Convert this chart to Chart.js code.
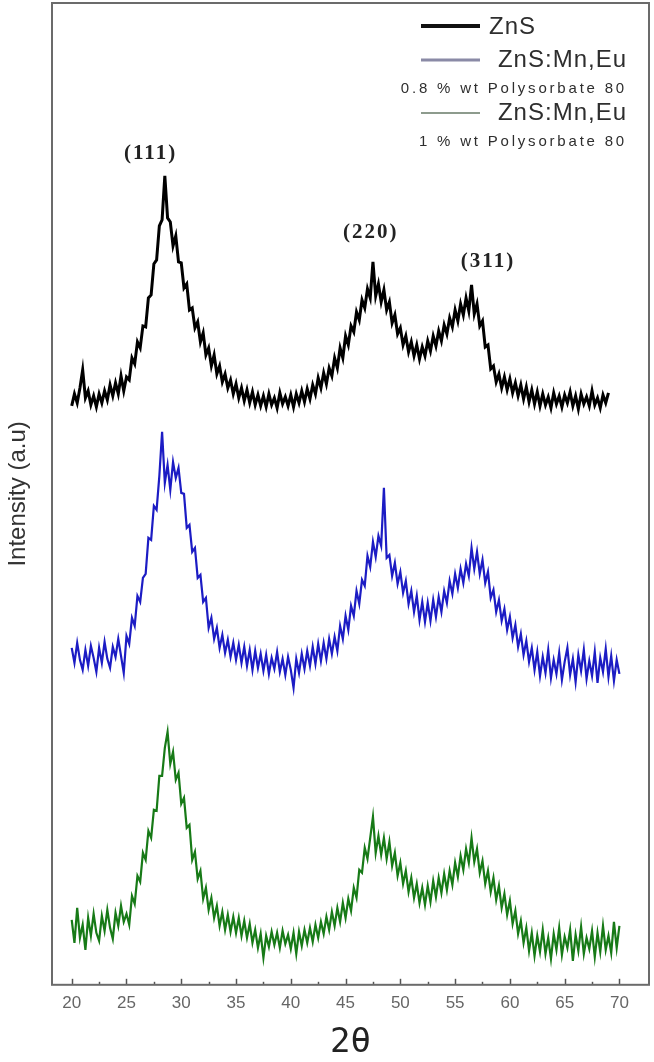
<!DOCTYPE html>
<html>
  <head>
    <title>XRD ZnS</title>
    <script src="https://cdn.jsdelivr.net/npm/chart.js"></script>
    <style>
      body { margin: 0; background: #fff; }
      #wrap { width: 654px; height: 1062px; }
    </style>
  </head>
  <body>
    <div id="wrap"><canvas id="xrdChart"></canvas></div>
    <script>
      // 2θ sampling grid (20..70, step 0.25)
      var twoTheta = [];
      for (var i = 0; i <= 200; i++) twoTheta.push(20 + i * 0.25);

      // intensities (a.u.), already shifted for the stacked plot
      var znsPure = [
        582,594,585,600, 618,590,597,583, 592,581,594,585, 597,588,603,592, 605,594,612,597,
        611,608,630,624, 646,640,662,661, 690,693,724,728, 762,768,812,770, 766,742,752,726,
        725,700,704,678, 680,660,666,646, 655,633,640,622, 633,614,622,606, 614,600,608,594,
        604,590,600,587, 598,585,596,583, 593,582,592,581, 594,583,590,580, 595,584,591,582,
        593,581,594,585, 597,586,599,589, 603,594,610,600, 615,604,620,612, 630,620,640,630,
        652,643,662,656, 676,668,688,680, 699,690,726,692, 704,686,698,678, 686,665,673,654,
        660,643,652,636, 646,632,643,629, 641,632,647,637, 652,642,657,647, 663,654,670,661,
        678,667,684,673, 690,677,703,674, 684,662,667,641, 643,619,622,606, 614,600,611,598,
        609,595,605,592, 603,589,601,586, 598,584,596,582, 594,583,591,580, 595,584,592,581,
        593,585,596,582, 592,579,594,584, 591,582,597,583, 590,580,593,585, 595,null,null,null,
        null
      ];
      var znsMnEu08 = [
        340,325,345,328, 318,338,322,342, 330,316,340,325, 346,329,320,341, 331,349,332,315,
        352,344,370,362, 392,386,410,414, 450,448,482,478, 512,556,505,523, 498,526,510,520,
        495,494,460,463, 436,440,410,413, 386,390,360,370, 349,360,340,353, 335,348,331,345,
        328,343,325,341, 322,338,318,337, 320,334,317,333, 314,330,319,336, 316,329,313,331,
        318,300,329,315, 334,319,337,322, 341,324,344,327, 345,329,349,334, 351,337,362,349,
        372,358,382,372, 397,384,408,402, 432,421,446,431, 452,442,500,430, 433,412,425,404,
        416,395,407,384, 397,376,392,368, 386,366,385,367, 388,371,391,376, 397,385,407,394,
        414,400,419,405, 424,412,440,419, 436,414,428,405, 416,390,398,376, 388,367,379,358,
        371,350,363,341, 354,333,347,326, 340,318,336,312, 331,315,338,310, 328,314,335,308,
        326,340,313,329, 306,333,317,338, 309,327,312,336, 305,330,316,339, 311,332,307,328,
        314
      ];
      var znsMnEu1 = [
        68,45,80,50, 63,38,70,52, 74,55,47,72, 57,78,60,49, 75,62,82,66,
        74,63,92,84, 112,106,135,128, 157,150,178,177, 212,212,240,256, 224,236,208,215,
        184,190,160,163, 128,136,109,117, 89,100,78,90, 70,82,62,76, 58,73,56,71,
        55,70,52,67, 50,64,45,58, 40,54,30,52, 41,56,43,55, 40,57,44,53,
        39,55,34,56, 42,58,45,60, 46,63,50,66, 54,71,58,76, 62,80,66,85,
        70,89,77,100, 90,118,115,140, 129,150,171,135, 152,133,150,129, 146,122,135,112,
        125,104,117,96, 110,90,104,85, 100,83,102,86, 107,91,110,95, 114,98,117,103,
        125,111,132,118, 139,125,150,126, 139,115,127,104, 117,96,110,88, 102,80,94,73,
        87,64,77,54, 67,45,60,37, 55,32,52,36, 58,34,50,29, 54,38,60,33,
        51,40,58,27, 53,37,61,34, 50,39,57,31, 55,36,62,38, 52,35,66,40,
        62
      ];

      // reflections
      var peakLabels = ["(111)", "(220)", "(311)"];
      var peakTheta = [27.2, 47.3, 58.0];
      var peakLabelLevel = [834, 755, 726];

      // legend texts
      var legendNames = ["ZnS", "ZnS:Mn,Eu", "ZnS:Mn,Eu"];
      var legendNotes = ["", "0.8 % wt Polysorbate 80", "1 % wt Polysorbate 80"];

      // frame + inward ticks, peak labels, legend
      var decor = {
        id: "decor",
        afterDraw: function (chart) {
          var ctx = chart.ctx;
          var a = chart.chartArea;
          var xs = chart.scales.x;
          var ys = chart.scales.y;
          ctx.save();

          // ticks pointing into the plot
          ctx.strokeStyle = "#555";
          ctx.lineWidth = 1.5;
          for (var t = 20; t <= 70; t += 2.5) {
            var px = Math.round(xs.getPixelForValue(t)) + 0.5;
            var len = t % 5 === 0 ? 6 : 3;
            ctx.beginPath();
            ctx.moveTo(px, a.bottom);
            ctx.lineTo(px, a.bottom - len);
            ctx.stroke();
          }

          // frame
          ctx.strokeStyle = "#6b6b6b";
          ctx.lineWidth = 2;
          ctx.strokeRect(a.left, a.top, a.right - a.left, a.bottom - a.top);

          // peak labels
          ctx.fillStyle = "#222";
          ctx.font = "bold 21px 'Liberation Serif'";
          ctx.letterSpacing = "2px";
          ctx.textAlign = "center";
          ctx.textBaseline = "middle";
          for (var k = 0; k < peakLabels.length; k++) {
            ctx.fillText(
              peakLabels[k],
              xs.getPixelForValue(peakTheta[k]),
              ys.getPixelForValue(peakLabelLevel[k])
            );
          }

          // legend
          var colors = chart.data.datasets.map(function (d) { return d.legendColor; });
          var widths = [4, 3, 2];
          var rowY = [26, 60, 113];
          var noteY = [0, 89, 142];
          for (var j = 0; j < legendNames.length; j++) {
            ctx.strokeStyle = colors[j];
            ctx.lineWidth = widths[j];
            ctx.beginPath();
            ctx.moveTo(421, rowY[j]);
            ctx.lineTo(480, rowY[j]);
            ctx.stroke();

            ctx.fillStyle = "#2e2e2e";
            ctx.font = "24px 'Liberation Sans'";
            ctx.letterSpacing = "1px";
            ctx.textBaseline = "middle";
            if (j === 0) {
              ctx.textAlign = "left";
              ctx.fillText(legendNames[j], 489, rowY[j] + 1);
            } else {
              ctx.textAlign = "right";
              ctx.fillText(legendNames[j], 627, rowY[j]);
            }
            if (legendNotes[j]) {
              ctx.font = "15px 'Liberation Sans'";
              ctx.letterSpacing = "2.8px";
              ctx.textAlign = "right";
              ctx.fillText(legendNotes[j], 627, noteY[j]);
            }
          }
          ctx.restore();
        },
      };

      new Chart(document.getElementById("xrdChart"), {
        type: "line",
        data: {
          labels: twoTheta,
          datasets: [
            {
              label: legendNames[0],
              data: znsPure,
              borderColor: "#000",
              legendColor: "#111",
              borderWidth: 3,
            },
            {
              label: legendNames[1] + " " + legendNotes[1],
              data: znsMnEu08,
              borderColor: "#1c1cc4",
              legendColor: "#8a8aa6",
              borderWidth: 2.2,
            },
            {
              label: legendNames[2] + " " + legendNotes[2],
              data: znsMnEu1,
              borderColor: "#177a17",
              legendColor: "#8d9b8d",
              borderWidth: 2.2,
            },
          ],
        },
        options: {
          responsive: true,
          maintainAspectRatio: false,
          animation: false,
          spanGaps: false,
          elements: { point: { radius: 0 }, line: { tension: 0 } },
          layout: { padding: { left: 0, right: 5, top: 3, bottom: 0 } },
          plugins: { legend: { display: false }, tooltip: { enabled: false } },
          scales: {
            x: {
              type: "linear",
              min: 18.2,
              max: 72.7,
              grid: { display: false, drawTicks: false },
              border: { display: false },
              ticks: {
                stepSize: 5,
                includeBounds: false,
                padding: 8,
                color: "#666",
                font: { family: "'Liberation Sans'", size: 17 },
                maxRotation: 0,
              },
              title: {
                display: true,
                text: "2θ",
                color: "#222",
                font: { family: "'DejaVu Sans Mono'", size: 34, lineHeight: 1.0 },
                padding: { top: 4.8, bottom: 2 },
              },
            },
            y: {
              min: 3,
              max: 985,
              grid: { display: false, drawTicks: false },
              border: { display: false },
              ticks: { display: false },
              title: {
                display: true,
                text: "Intensity (a.u)",
                color: "#333",
                font: { family: "'Liberation Sans'", size: 24, lineHeight: 1.2 },
                padding: { top: 3.6, bottom: 19.6 },
              },
            },
          },
        },
        plugins: [decor],
      });
    </script>
  </body>
</html>
